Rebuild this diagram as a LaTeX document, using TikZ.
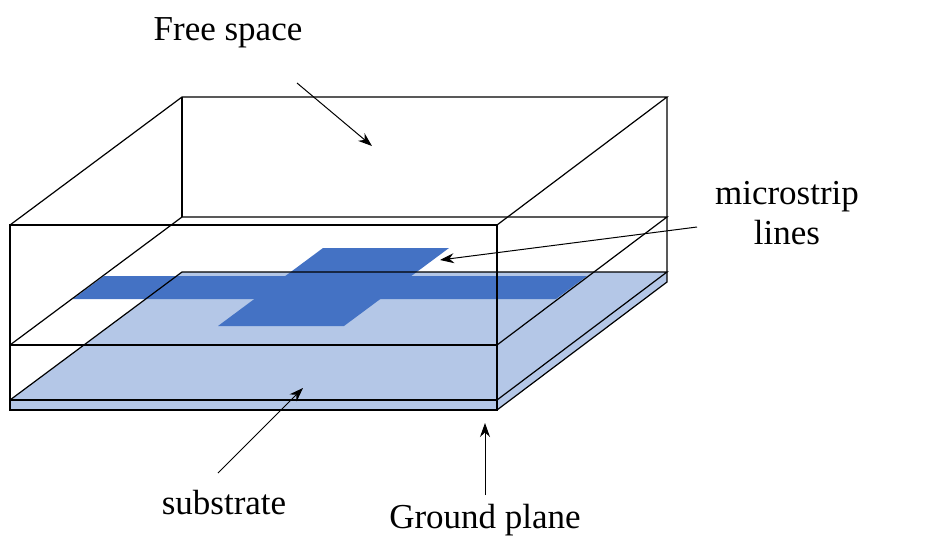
\documentclass[tikz,border=0pt]{standalone}
\usepackage{fontspec}
\setmainfont{Liberation Serif}
\usetikzlibrary{arrows.meta}
\definecolor{lite}{HTML}{B4C7E7}
\definecolor{strip}{HTML}{4472C4}
\tikzset{edge/.style={draw=black,line width=1.2pt,line join=miter},
  lbl/.style={font=\fontsize{35}{40}\selectfont,inner sep=0pt,align=center},
  arr/.style={-{Stealth[length=14pt,width=10pt]},line width=1pt}}
\begin{document}
\begin{tikzpicture}[x=1pt,y=-1pt]
\useasboundingbox (0,0) rectangle (943,550);
% substrate plane
\fill[lite] (10,400)--(497,400)--(667,272)--(182,272)--cycle;
\fill[lite] (10,400) rectangle (497,410);
\fill[lite] (497,400)--(667,272)--(667,282)--(497,410)--cycle;
% microstrip
\fill[strip] (73,299)--(556,299)--(587,276)--(104,276)--cycle;
\fill[strip] (218,326)--(344,326)--(449,248)--(323,248)--cycle;
% box edges
\draw[edge] (10,225) rectangle (497,410);
\draw[edge] (10,345)--(497,345);
\draw[edge] (10,400)--(497,400);
\draw[edge] (10,225)--(182,97)--(667,97)--(497,225);
\draw[edge] (182,97)--(182,217);
\draw[edge] (667,97)--(667,282)--(497,410);
\draw[edge] (10,345)--(182,217)--(667,217)--(497,345);
\draw[edge] (10,400)--(182,272)--(667,272)--(497,400);
% labels
\node[lbl] (fs) at (228,33) {Free space};
\node[lbl] (ms) at (787,213) {microstrip\\lines};
\node[lbl] (sub) at (224,503) {substrate};
\node[lbl] (gp) at (485,520) {Ground plane};
\coordinate (fsa) at (297,83); \coordinate (fsb) at (372,146);
\coordinate (msa) at (697,227); \coordinate (msb) at (440,260);
\coordinate (sa) at (218,473); \coordinate (sb) at (303,388);
\coordinate (ga) at (485,495); \coordinate (gb) at (485,423);
\draw[arr] (fsa)--(fsb);
\draw[arr] (msa)--(msb);
\draw[arr] (sa)--(sb);
\draw[arr] (ga)--(gb);
\end{tikzpicture}
\end{document}
